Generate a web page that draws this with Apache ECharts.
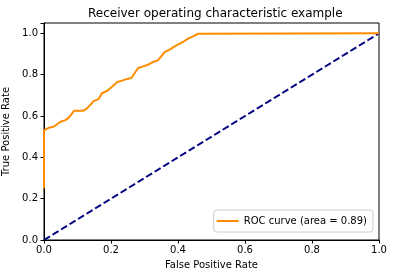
<!DOCTYPE html>
<html>
<head>
<meta charset="utf-8">
<script src="https://cdn.jsdelivr.net/npm/echarts@6/dist/echarts.min.js"></script>
<style>html,body{margin:0;padding:0;background:#fff;}#c{width:394px;height:278px;}</style>
</head>
<body>
<div id="c"></div>
<script>
var fpr = [0, 0, 0.002, 0.014, 0.029, 0.039, 0.049, 0.064, 0.074, 0.084, 0.09, 0.118, 0.128, 0.138, 0.148, 0.163, 0.173, 0.188, 0.203, 0.218, 0.233, 0.241, 0.261, 0.271, 0.281, 0.296, 0.31, 0.325, 0.34, 0.35, 0.36, 0.375, 0.39, 0.405, 0.415, 0.43, 0.445, 0.46, 0.465, 1.0];
var tpr = [0.25, 0.53, 0.536, 0.543, 0.548, 0.56, 0.572, 0.58, 0.592, 0.613, 0.626, 0.626, 0.637, 0.653, 0.672, 0.682, 0.71, 0.721, 0.742, 0.763, 0.771, 0.776, 0.784, 0.808, 0.832, 0.84, 0.848, 0.861, 0.869, 0.889, 0.909, 0.921, 0.937, 0.95, 0.958, 0.974, 0.985, 0.998, 1.0, 1.0];
var diagX = [0, 1];
var diagY = [0, 1];
var rocName = 'ROC curve (area = 0.89)';
var titleText = 'Receiver operating characteristic example';
var xName = 'False Positive Rate';
var yName = 'True Positive Rate';

var font = 'DejaVu Sans';
var chart = echarts.init(document.getElementById('c'), null, {renderer: 'canvas'});
function fmt(v) {
  var r = Math.round(v / 0.2) * 0.2;
  if (Math.abs(r - v) > 1e-6) return '';
  return r.toFixed(1);
}
chart.setOption({
  animation: false,
  textStyle: {fontFamily: font},
  title: {
    text: titleText, left: 83, top: 3,
    textStyle: {fontSize: 12, fontWeight: 'normal', color: '#000', fontFamily: font}
  },
  grid: {left: 44, right: 15, top: 23, bottom: 38, show: true, borderColor: '#000', borderWidth: 1,
         containLabel: false, outerBoundsMode: 'none'},
  legend: {
    data: [rocName], right: 21, bottom: 46,
    orient: 'vertical',
    backgroundColor: '#fff', borderColor: '#ccc', borderWidth: 1, borderRadius: 3,
    padding: [6, 6, 6, 3],
    itemWidth: 22, itemHeight: 2, itemGap: 5,
    icon: 'rect',
    textStyle: {fontSize: 10, color: '#000', fontFamily: font}
  },
  xAxis: {
    type: 'value', min: 0, max: 1, interval: 0.2,
    name: xName, nameLocation: 'middle', nameGap: 20,
    nameTextStyle: {fontSize: 10, color: '#000', fontFamily: font},
    axisLine: {show: true, lineStyle: {color: '#000', width: 1}},
    axisTick: {show: true, length: 3.5, lineStyle: {color: '#000'}},
    axisLabel: {fontSize: 10, color: '#000', margin: 5, formatter: fmt, fontFamily: font},
    splitLine: {show: false}
  },
  yAxis: {
    type: 'value', min: 0, max: 1.05, interval: 0.2,
    name: yName, nameLocation: 'middle', nameGap: 26,
    nameTextStyle: {fontSize: 10, color: '#000', fontFamily: font},
    axisLine: {show: true, lineStyle: {color: '#000', width: 1}},
    axisTick: {show: true, length: 3.5, lineStyle: {color: '#000'}},
    axisLabel: {fontSize: 10, color: '#000', margin: 6, formatter: fmt, fontFamily: font, showMaxLabel: true},
    splitLine: {show: false}
  },
  series: [
    {
      name: rocName, type: 'line', showSymbol: false, symbol: 'none',
      data: fpr.map(function (x, i) { return [x, tpr[i]]; }),
      lineStyle: {color: '#ff8c00', width: 2},
      itemStyle: {color: '#ff8c00'},
      z: 3
    },
    {
      name: 'diag', type: 'line', showSymbol: false, symbol: 'none',
      data: diagX.map(function (x, i) { return [x, diagY[i]]; }),
      lineStyle: {color: '#000080', width: 2, type: [7, 3]},
      itemStyle: {color: '#000080'},
      z: 2
    }
  ]
});
</script>
</body>
</html>
